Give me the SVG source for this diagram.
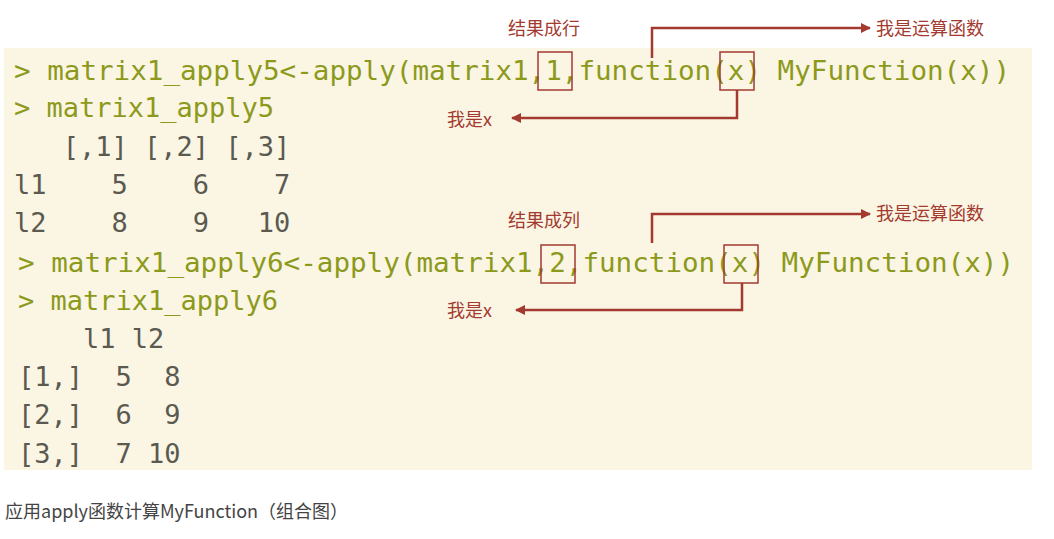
<svg xmlns="http://www.w3.org/2000/svg" width="1054" height="539" viewBox="0 0 1054 539">
<defs>
<marker id="ah" viewBox="0 0 10 10" refX="9" refY="5" markerWidth="10" markerHeight="10" markerUnits="userSpaceOnUse" orient="auto"><path d="M0,0 L10,5 L0,10 z" fill="#a33a30"/></marker>
<style>
.code{font-family:"DejaVu Sans Mono","Liberation Mono",monospace;font-size:27px;fill:#8c9a1c}
.out{font-family:"DejaVu Sans Mono","Liberation Mono",monospace;font-size:27px;fill:#5a5a50}
.ann{font-family:"Noto Sans CJK SC","Noto Sans",sans-serif;font-size:18px;fill:#a33a30}
.box{fill:none;stroke:#a33a30;stroke-width:1.5}
.con{fill:none;stroke:#a33a30;stroke-width:2.5}
</style>
</defs>
<rect x="4" y="48" width="1028" height="422" fill="#fbf5e4"/>
<g id="code">
<text class="code" x="14" y="80" textLength="996" lengthAdjust="spacingAndGlyphs">&gt; matrix1_apply5&lt;-apply(matrix1,1,function(x) MyFunction(x))</text>
<text class="code" x="14" y="117">&gt; matrix1_apply5</text>
<text class="out" x="14" y="156" xml:space="preserve">   [,1] [,2] [,3]</text>
<text class="out" x="14" y="194" xml:space="preserve">l1    5    6    7</text>
<text class="out" x="14" y="232" xml:space="preserve">l2    8    9   10</text>
<text class="code" x="18" y="272" textLength="996" lengthAdjust="spacingAndGlyphs">&gt; matrix1_apply6&lt;-apply(matrix1,2,function(x) MyFunction(x))</text>
<text class="code" x="18" y="310">&gt; matrix1_apply6</text>
<text class="out" x="18" y="348" xml:space="preserve">    l1 l2</text>
<text class="out" x="18" y="386" xml:space="preserve">[1,]  5  8</text>
<text class="out" x="18" y="424" xml:space="preserve">[2,]  6  9</text>
<text class="out" x="18" y="463" xml:space="preserve">[3,]  7 10</text>
</g>
<g id="boxes">
<rect class="box" x="538" y="52" width="34" height="38"/>
<rect class="box" x="720" y="52" width="34" height="38"/>
<rect class="box" x="541" y="245" width="34" height="38"/>
<rect class="box" x="724" y="245" width="34" height="38"/>
</g>
<g id="connectors">
<path class="con" d="M652,58 V28 H870" marker-end="url(#ah)"/>
<path class="con" d="M737,90 V118 H512" marker-end="url(#ah)"/>
<path class="con" d="M652,243 V214 H870" marker-end="url(#ah)"/>
<path class="con" d="M742,283 V310 H516" marker-end="url(#ah)"/>
</g>
<g id="labels">
<text class="ann" x="508" y="35">结果成行</text>
<text class="ann" x="876" y="35">我是运算函数</text>
<text class="ann" x="447" y="126">我是x</text>
<text class="ann" x="508" y="227">结果成列</text>
<text class="ann" x="876" y="220">我是运算函数</text>
<text class="ann" x="447" y="317">我是x</text>
</g>
<text x="5" y="518" font-family="Noto Sans CJK SC, Noto Sans, sans-serif" font-size="18" fill="#444">应用apply函数计算MyFunction（组合图）</text>
</svg>
